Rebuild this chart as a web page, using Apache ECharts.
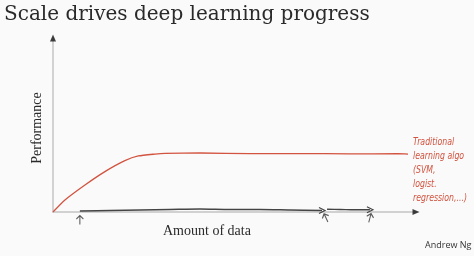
<!DOCTYPE html>
<html><head><meta charset="utf-8">
<script src="https://cdn.jsdelivr.net/npm/echarts@6/dist/echarts.min.js"></script>
<style>html,body{margin:0;padding:0;background:#fafafa}#c{width:474px;height:256px}</style>
</head><body><div id="c"></div>
<script>
// Traditional learning algorithm performance curve (amount of data -> performance)
var redX = [0, 3.3, 8.8, 14.3, 19.8, 23.5, 28.1, 30.9, 40.5, 54.3, 68.0, 81.8, 95.0, 97.8];
var redY = [0, 6.9, 15.5, 23.2, 29.5, 32.2, 33.3, 33.7, 33.9, 33.5, 33.6, 33.4, 33.5, 33.3];
// hand-drawn data range arrows under the axis
var dataX1 = [7.4, 15.7, 24.0, 32.2, 40.5, 48.8, 57.0, 65.3, 74.1];
var dataY1 = [0.57, 0.86, 1.15, 1.44, 1.72, 1.44, 1.44, 1.15, 0.86];
var dataX2 = [75.5, 79.1, 83.2, 87.3];
var dataY2 = [1.55, 1.44, 1.26, 1.32];
var tickArrowX = [7.4, 75.2, 87.3];
var tickArrowY = [-4.6, -3.4, -3.4];
var tickArrowRot = [0, 25, -15];
var annotationLines = ['Traditional', 'learning algo', '(SVM,', 'logist.', 'regression,...)'];

function pairs(xs, ys) { return xs.map(function (x, i) { return [x, ys[i]]; }); }
var chev = 'path://M0,0 L10,5 L0,10';
function withHead(pts) {
  return pts.map(function (p, i) {
    if (i === pts.length - 1) return { value: p, symbol: chev, symbolSize: [6, 6], symbolRotate: 0 };
    return { value: p, symbol: 'none' };
  });
}

var chart = echarts.init(document.getElementById('c'));
var serif = '"DejaVu Serif", "Liberation Serif", serif';
var lserif = '"Liberation Serif", serif';
chart.setOption({
  backgroundColor: '#fafafa',
  animation: false,
  title: { text: 'Scale drives deep learning progress', left: -1, top: 0,
    textStyle: { fontFamily: serif, fontWeight: 'normal', fontSize: 20, color: '#2a2a2a' } },
  grid: { left: 53, right: 58, top: 38, bottom: 44 },
  xAxis: { type: 'value', min: 0, max: 100, axisLine: { lineStyle: { color: '#c4c4c4', width: 1.5 } },
    axisTick: { show: false }, axisLabel: { show: false }, splitLine: { show: false } },
  yAxis: { type: 'value', min: 0, max: 100, axisLine: { show: true, lineStyle: { color: '#c4c4c4', width: 1.5 } },
    axisTick: { show: false }, axisLabel: { show: false }, splitLine: { show: false } },
  series: [
    { type: 'line', data: pairs(redX, redY), symbol: 'none', smooth: 0.2,
      lineStyle: { color: '#d2533f', width: 1.3 } },
    { type: 'line', data: withHead(pairs(dataX1, dataY1)), showSymbol: true, smooth: 0.3,
      lineStyle: { color: '#444', width: 1.4 },
      itemStyle: { color: 'none', borderColor: '#444', borderWidth: 1.2 } },
    { type: 'line', data: withHead(pairs(dataX2, dataY2)), showSymbol: true, smooth: 0.3,
      lineStyle: { color: '#444', width: 1.4 },
      itemStyle: { color: 'none', borderColor: '#444', borderWidth: 1.2 } },
    { type: 'scatter', clip: false,
      data: tickArrowX.map(function (x, i) { return { value: [x, tickArrowY[i]], symbolRotate: tickArrowRot[i] }; }),
      symbol: 'path://M5,0 L5,18 M0,7 L5,0 L10,7', symbolSize: [7, 9],
      itemStyle: { color: 'none', borderColor: '#333', borderWidth: 1.2 } },
    { type: 'scatter', clip: false, data: [{ value: [0, 100], symbolRotate: 0 }, { value: [100, 0], symbolRotate: -90 }],
      symbol: 'triangle', symbolSize: [6, 7], itemStyle: { color: '#111' } }
  ],
  graphic: [
    { type: 'text', left: 163, top: 224, style: { text: 'Amount of data', font: '14px ' + lserif, fill: '#2a2a2a' } },
    { type: 'text', x: 37, y: 128, rotation: Math.PI / 2, style: { text: 'Performance', font: '14px ' + lserif, fill: '#2a2a2a', align: 'center', verticalAlign: 'middle' } },
    { type: 'text', left: 425, top: 241, style: { text: 'Andrew Ng', font: '9px "Open Sans", sans-serif', fill: '#333' } },
    { type: 'text', x: 413, y: 135, scaleX: 0.78, style: { text: annotationLines.join('\n'), font: 'italic 10px "DejaVu Sans", sans-serif', fill: '#d2533f', lineHeight: 14 } }
  ]
});
</script></body></html>
